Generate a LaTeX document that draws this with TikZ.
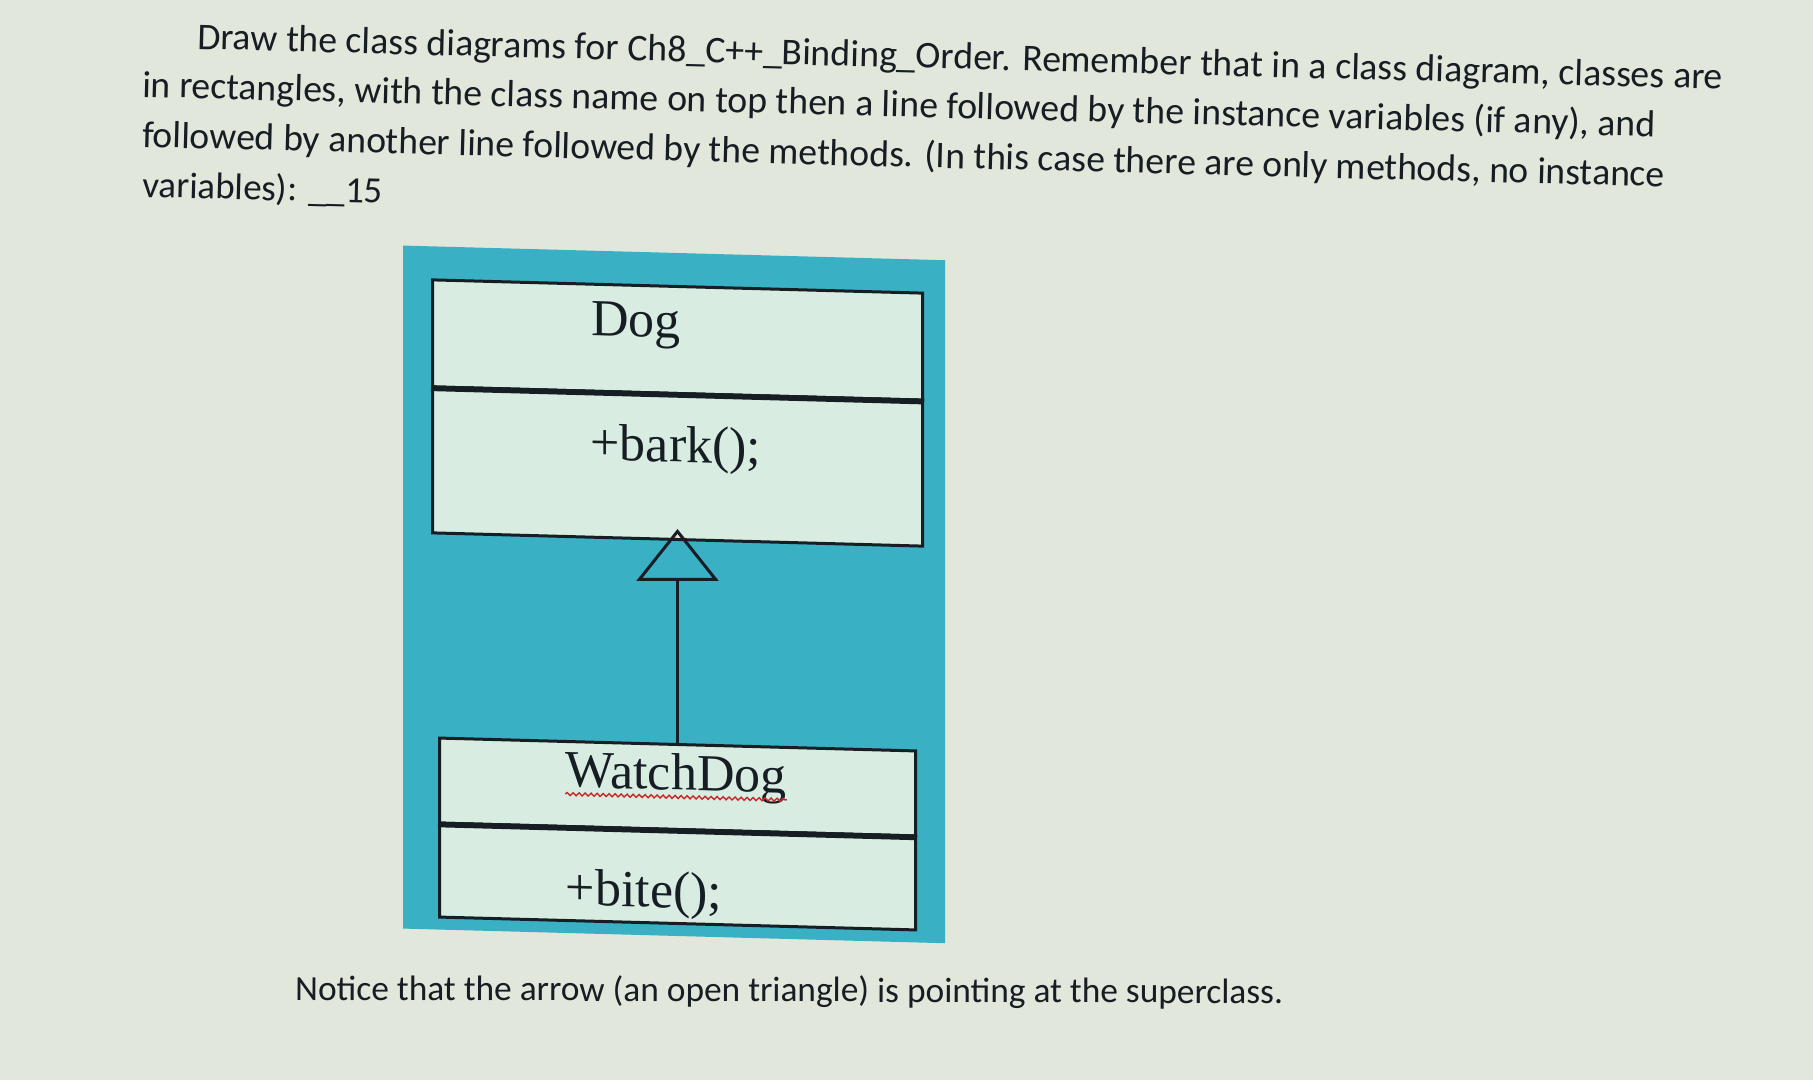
\documentclass[tikz,border=0pt]{standalone}
\usepackage{fontspec}
\setmainfont{Carlito}
\newfontfamily\umlserif{Liberation Serif}
\usetikzlibrary{arrows.meta,decorations.pathmorphing}
\definecolor{bgc}{RGB}{226,231,220}
\definecolor{panelc}{RGB}{58,176,196}
\definecolor{boxc}{RGB}{216,236,226}
\definecolor{inkc}{RGB}{22,30,36}
\definecolor{spellc}{RGB}{200,40,40}
\tikzset{
  prose/.style={anchor=base west, inner sep=0pt, font=\fontsize{37}{44}\selectfont, text=inkc, rotate=-1.5},
  classpart/.style={draw=inkc, line width=3pt, fill=boxc, inner sep=0pt, anchor=north west},
  umltext/.style={font=\umlserif\fontsize{52}{60}\selectfont, anchor=base, inner sep=0pt, text=inkc},
  divider/.style={draw=inkc, line width=5.5pt},
  inherit/.style={draw=inkc, line width=3pt, -{Triangle[open, width=82pt, length=52pt, line width=3pt]}},
}
\begin{document}
\begin{tikzpicture}[x=1pt,y=1pt]
\useasboundingbox (0,0) rectangle (1813,-1080);
\fill[bgc] (0,0) rectangle (1813,-1080);
% prose
\node[prose] (l1) at (197,-49) {\resizebox{1526pt}{!}{Draw the class diagrams for Ch8\_C++\_Binding\_Order. Remember that in a class diagram, classes are}};
\node[prose] (l2) at (142,-97) {\resizebox{1514pt}{!}{in rectangles, with the class name on top then a line followed by the instance variables (if any), and}};
\node[prose] (l3) at (142,-147) {\resizebox{1523pt}{!}{followed by another line followed by the methods. (In this case there are only methods, no instance}};
\node[prose] (l4) at (142,-197) {variables): \_\_15};
% diagram
\begin{scope}[cm={1,-0.027,0,1,(0,18.3)}, transform shape]
\fill[panelc] (403,-253) rectangle (945,-936);
\node[classpart, minimum width=490pt, minimum height=107pt] (dogname) at (431,-285) {};
\node[classpart, minimum width=490pt, minimum height=146pt] (dogbody) at (431,-392) {};
\node[classpart, minimum width=476pt, minimum height=85pt] (wdname) at (438,-743) {};
\node[classpart, minimum width=476pt, minimum height=94pt] (wdbody) at (438,-828) {};
\draw[divider] (dogname.south west) -- (dogname.south east);
\draw[divider] (wdname.south west) -- (wdname.south east);
\node[umltext] (dogt) at (636,-338) {Dog};
\node[umltext] (barkt) at (676,-462) {+bark();};
\node[umltext] (wdt) at (676,-790) {WatchDog};
\node[umltext] (bitet) at (644,-908) {+bite();};
\draw[spellc, line width=1.4pt, decorate, decoration={snake, amplitude=1.5pt, segment length=6pt}] ([yshift=-7pt]wdt.base west) -- ([yshift=-7pt]wdt.base east);
\draw[inherit] (wdname.north) -- ([yshift=12pt]dogbody.south);
\end{scope}
% note
\node[prose, rotate=1.3] (note) at (295,-1000) {\resizebox{988pt}{!}{Notice that the arrow (an open triangle) is pointing at the superclass.}};
\end{tikzpicture}
\end{document}
